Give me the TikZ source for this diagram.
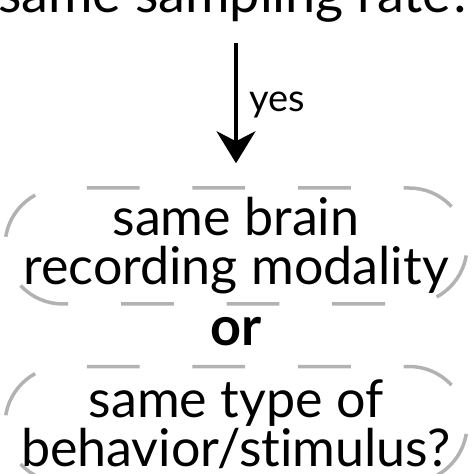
\documentclass[tikz,border=0pt]{standalone}
\usepackage{fontspec}
\setmainfont{Lato}[Ligatures=NoCommon]
\usetikzlibrary{positioning,arrows.meta}

\begin{document}
\begin{tikzpicture}[
  x=0.5pt, y=-0.5pt,
  question/.style={inner sep=0pt, font=\fontsize{27}{24.5}\selectfont, align=center},
  stadium/.style={rectangle, draw=black!30, line width=1.75pt, rounded corners=29pt,
                  minimum width=231pt, minimum height=58pt, inner sep=0pt,
                  dash pattern=on 26.4pt off 26.4pt, dash phase=76.5pt,
                  align=center, font=\fontsize{26}{24.5}\selectfont},
  flow/.style={-{Stealth[length=16pt, width=19.5pt, inset=5pt]}, line width=1.75pt},
  orword/.style={inner sep=0pt, font=\fontsize{27}{27}\selectfont\bfseries}
]
\useasboundingbox (0,0) rectangle (474,474);
\node[question, anchor=base] (rate) at (236,13) {same sampling rate?};
\node[stadium] (modality) at (236,246) {same brain\\recording modality};
\node[orword, anchor=base] (or) at (236,345) {or};
\node[stadium, below=29.5pt of modality] (behavior) {same type of\\behavior/stimulus?};
\draw[flow, shorten <=10pt, shorten >=11.5pt] (rate.south) -- node[right=6pt, inner sep=0pt, font=\fontsize{19}{19}\selectfont] (yes) {yes} (modality.north);
\end{tikzpicture}
\end{document}
